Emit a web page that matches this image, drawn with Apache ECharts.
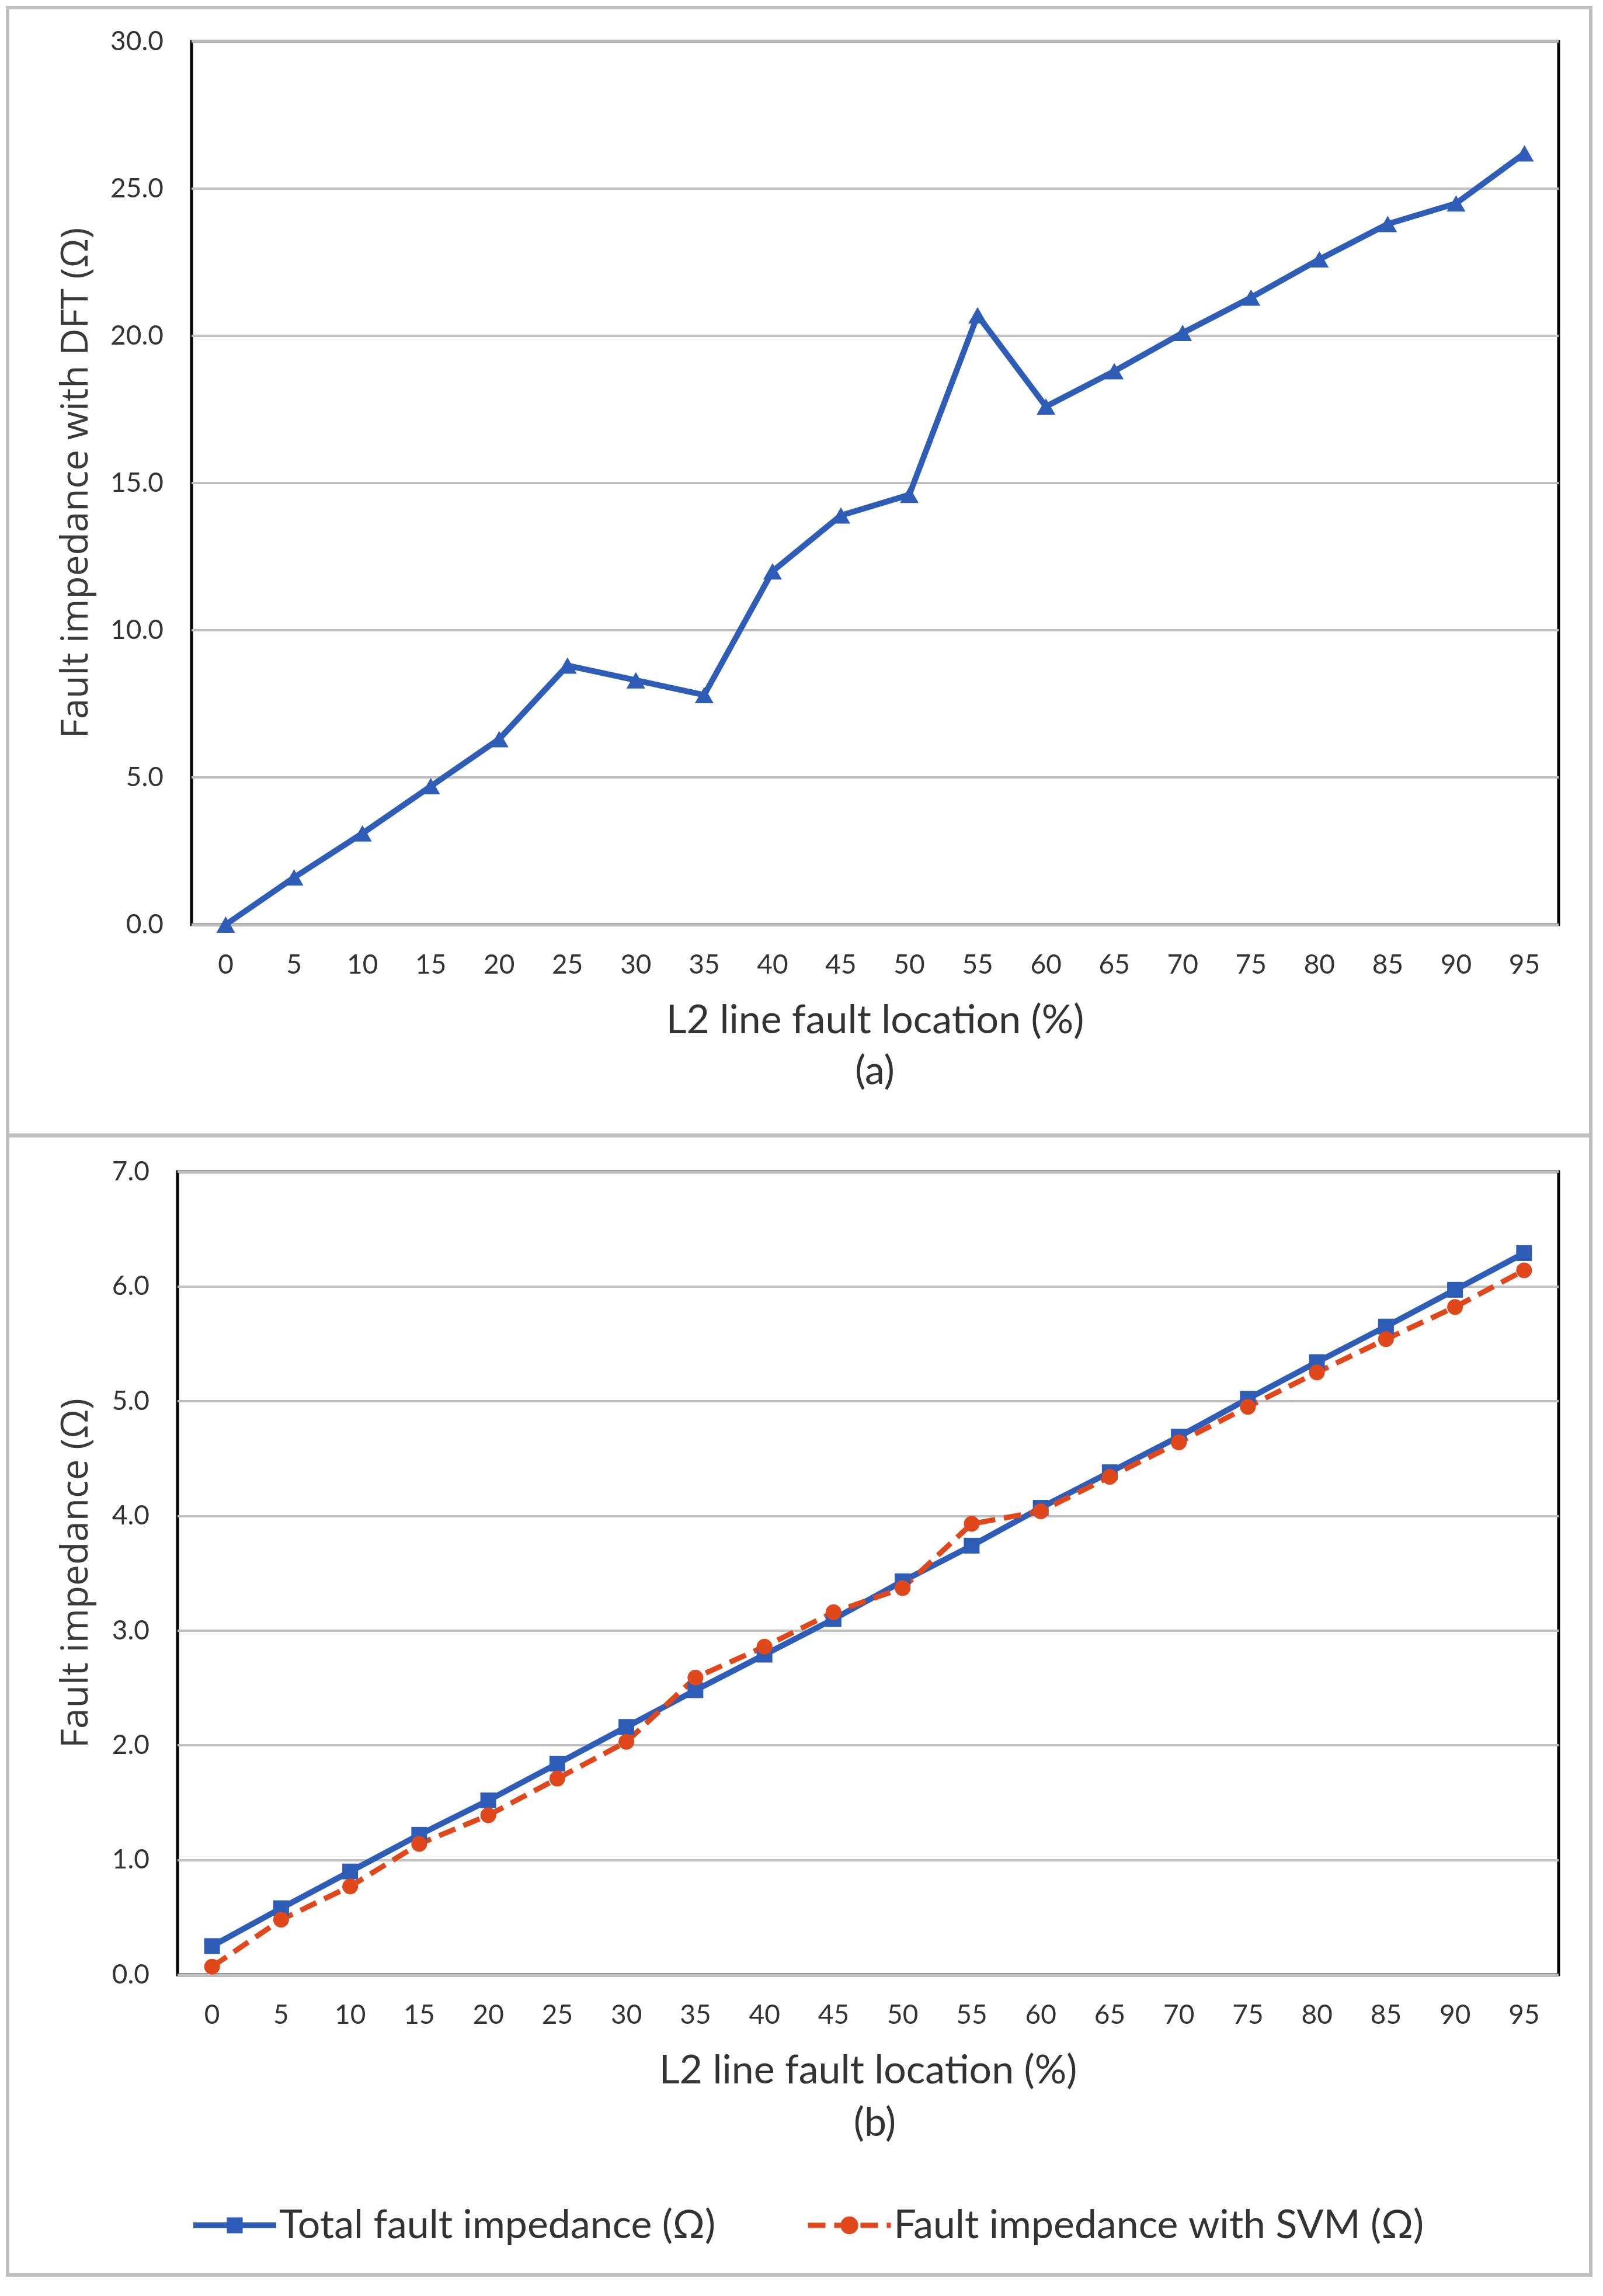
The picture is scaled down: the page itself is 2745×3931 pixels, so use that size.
<!DOCTYPE html>
<html>
<head>
<meta charset="utf-8">
<script src="https://cdn.jsdelivr.net/npm/echarts@6/dist/echarts.min.js"></script>
<style>
html, body { margin: 0; padding: 0; background: #fff; }
#main { width: 2745px; height: 3931px; }
</style>
</head>
<body>
<div id="main"></div>
<script>
// fault location along L2 (%)
var locations = ['0', '5', '10', '15', '20', '25', '30', '35', '40', '45',
                 '50', '55', '60', '65', '70', '75', '80', '85', '90', '95'];

// (a) fault impedance with DFT
var dftImpedance = [0.0, 1.6, 3.1, 4.7, 6.3, 8.8, 8.3, 7.8, 12.0, 13.9,
                    14.6, 20.7, 17.6, 18.8, 20.1, 21.3, 22.6, 23.8, 24.5, 26.2];

// (b) total vs SVM
var totalImpedance = [0.25, 0.58, 0.90, 1.22, 1.52, 1.84, 2.16, 2.48, 2.79, 3.10,
                      3.43, 3.74, 4.07, 4.38, 4.69, 5.02, 5.34, 5.65, 5.97, 6.29];
var svmImpedance = [0.07, 0.48, 0.77, 1.14, 1.39, 1.71, 2.03, 2.59, 2.86, 3.16,
                    3.37, 3.93, 4.04, 4.34, 4.64, 4.95, 5.25, 5.54, 5.82, 6.14];

var seriesNames = ['Total fault impedance (Ω)', 'Fault impedance with SVM (Ω)'];

var blue = '#2d5db6';
var orange = '#e0481b';
var textColor = '#333333';

var myChart = echarts.init(document.getElementById('main'));

function xAxisFor(gridIndex, gap) {
    return {
        type: 'category',
        gridIndex: gridIndex,
        data: locations,
        boundaryGap: true,
        axisLine: { show: false },
        axisTick: { show: false },
        axisLabel: { fontFamily: 'Lato', fontSize: 46, color: textColor, margin: 46 },
        name: 'L2 line fault location (%)',
        nameLocation: 'middle',
        nameGap: gap,
        nameTextStyle: { fontFamily: 'Lato', fontSize: 68, lineHeight: 68, color: textColor }
    };
}

function yAxisFor(gridIndex, max, interval, title, gap) {
    return {
        type: 'value',
        gridIndex: gridIndex,
        min: 0,
        max: max,
        interval: interval,
        axisLine: { show: false },
        axisTick: { show: false },
        splitLine: { lineStyle: { color: '#bfbfbf', width: 4 } },
        axisLabel: {
            fontFamily: 'Lato', fontSize: 46, color: textColor, margin: 48,
            formatter: function (v) { return v.toFixed(1); }
        },
        name: title,
        nameLocation: 'middle',
        nameGap: gap,
        nameTextStyle: { fontFamily: 'Open Sans', fontSize: 64, lineHeight: 64, color: '#3a3a3a' }
    };
}

var option = {
    backgroundColor: '#fff',
    animation: false,
    graphic: [
        // outer frame + panel divider
        { type: 'rect', shape: { x: 13, y: 13, width: 2711, height: 3882 },
          style: { fill: null, stroke: '#bfbfbf', lineWidth: 6 }, z: -1 },
        { type: 'line', shape: { x1: 13, y1: 1944, x2: 2724, y2: 1944 },
          style: { stroke: '#bfbfbf', lineWidth: 7 }, z: -1 },
        { type: 'text', x: 1498, y: 1834,
          style: { text: '(a)', fontFamily: 'Lato', fontSize: 68, fill: textColor,
                   textAlign: 'center', textVerticalAlign: 'middle' } },
        { type: 'text', x: 1498, y: 3635,
          style: { text: '(b)', fontFamily: 'Lato', fontSize: 68, fill: textColor,
                   textAlign: 'center', textVerticalAlign: 'middle' } }
    ],
    legend: [
        {
            data: [seriesNames[0]],
            left: 321, top: 3771,
            itemWidth: 142, itemHeight: 34,
            lineStyle: { width: 10 },
            textStyle: { fontFamily: 'Lato', fontSize: 68, color: textColor }
        },
        {
            data: [seriesNames[1]],
            left: 1374, top: 3771,
            itemWidth: 142, itemHeight: 38,
            lineStyle: { width: 9 },
            textStyle: { fontFamily: 'Lato', fontSize: 68, color: textColor }
        }
    ],
    grid: [
        { left: 328, top: 71, width: 2341, height: 1512,
          show: true, borderColor: '#000', borderWidth: 5, backgroundColor: 'transparent' },
        { left: 304, top: 2006, width: 2365, height: 1375,
          show: true, borderColor: '#000', borderWidth: 5, backgroundColor: 'transparent' }
    ],
    xAxis: [ xAxisFor(0, 130), xAxisFor(1, 130) ],
    yAxis: [
        yAxisFor(0, 30, 5, 'Fault impedance with DFT (Ω)', 164),
        yAxisFor(1, 7, 1, 'Fault impedance (Ω)', 140)
    ],
    series: [
        {
            name: 'Fault impedance with DFT (Ω)',
            type: 'line',
            xAxisIndex: 0, yAxisIndex: 0,
            data: dftImpedance,
            symbol: 'triangle',
            symbolSize: [32, 28],
            lineStyle: { color: blue, width: 10 },
            itemStyle: { color: blue }
        },
        {
            name: seriesNames[0],
            type: 'line',
            xAxisIndex: 1, yAxisIndex: 1,
            data: totalImpedance,
            symbol: 'rect',
            symbolSize: 27,
            lineStyle: { color: blue, width: 10 },
            itemStyle: { color: blue }
        },
        {
            name: seriesNames[1],
            type: 'line',
            xAxisIndex: 1, yAxisIndex: 1,
            data: svmImpedance,
            symbol: 'circle',
            symbolSize: 27,
            lineStyle: { color: orange, width: 9, type: [30, 15] },
            itemStyle: { color: orange }
        }
    ]
};

myChart.setOption(option);

window.onresize = function () {
    myChart.resize();
};
</script>
</body>
</html>
